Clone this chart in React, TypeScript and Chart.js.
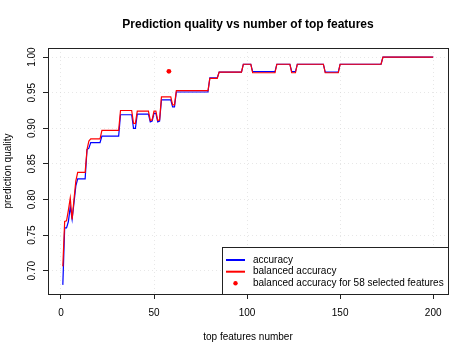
import React, { useEffect, useRef } from 'react';
import { Chart, registerables } from 'chart.js';

Chart.register(...registerables);

// ---- data ----
const accuracyN = [1, 2, 3, 4, 5, 6, 7, 8, 9, 13, 14, 15, 16, 21, 22, 31, 32, 38, 39, 40, 41, 47, 48, 49, 50, 51, 52, 53, 54, 59, 60, 61, 62, 79, 80, 84, 85, 97, 98, 102, 103, 115, 116, 123, 124, 126, 127, 141, 142, 149, 150, 172, 173, 200];
const accuracyValues = [0.680, 0.760, 0.760, 0.769, 0.790, 0.772, 0.795, 0.819, 0.829, 0.829, 0.870, 0.872, 0.880, 0.880, 0.889, 0.889, 0.919, 0.919, 0.900, 0.900, 0.920, 0.920, 0.909, 0.910, 0.921, 0.921, 0.909, 0.910, 0.940, 0.940, 0.930, 0.930, 0.951, 0.951, 0.971, 0.971, 0.979, 0.979, 0.990, 0.990, 0.9795, 0.9795, 0.990, 0.990, 0.9795, 0.9795, 0.990, 0.990, 0.979, 0.979, 0.990, 0.990, 1.000, 1.000];

const balancedN = [1, 2, 3, 4, 5, 6, 7, 8, 9, 13, 14, 15, 16, 21, 22, 31, 32, 38, 39, 40, 41, 47, 48, 49, 50, 51, 52, 53, 54, 59, 60, 61, 62, 79, 80, 84, 85, 97, 98, 102, 103, 115, 116, 123, 124, 126, 127, 141, 142, 149, 150, 172, 173, 200];
const balancedValues = [0.706, 0.769, 0.770, 0.785, 0.802, 0.772, 0.800, 0.826, 0.838, 0.838, 0.870, 0.882, 0.885, 0.885, 0.897, 0.897, 0.925, 0.925, 0.907, 0.907, 0.924, 0.924, 0.911, 0.912, 0.924, 0.924, 0.911, 0.912, 0.944, 0.944, 0.933, 0.933, 0.953, 0.953, 0.970, 0.970, 0.979, 0.979, 0.990, 0.990, 0.978, 0.978, 0.990, 0.990, 0.978, 0.978, 0.990, 0.990, 0.978, 0.978, 0.990, 0.990, 1.000, 1.000];

const selectedN = [58];
const selectedValues = [0.98];

const xTicks = [0, 50, 100, 150, 200];
const yTicks = [0.70, 0.75, 0.80, 0.85, 0.90, 0.95, 1.00];

const titleText = 'Prediction quality vs number of top features';
const xTitle = 'top features number';
const yTitle = 'prediction quality';
const legendLabels = ['accuracy', 'balanced accuracy', 'balanced accuracy for 58 selected features'];

const FONT = '"Liberation Sans", Arial, Helvetica, sans-serif';
const BLUE = '#0000ff';
const RED = '#ff0000';

export default function App() {
  const ref = useRef<HTMLCanvasElement>(null);

  useEffect(() => {
    const canvas = ref.current;
    if (!canvas) return;

    const framePlugin = {
      id: 'rframe',
      afterDraw(chart: any) {
        const { ctx, chartArea: ca } = chart;
        ctx.save();
        // plot box
        ctx.strokeStyle = '#222';
        ctx.lineWidth = 1;
        ctx.setLineDash([]);
        ctx.strokeRect(Math.round(ca.left) + 0.5, Math.round(ca.top) + 0.5, Math.round(ca.right - ca.left), Math.round(ca.bottom - ca.top));

        // title
        ctx.fillStyle = '#000';
        ctx.font = `bold 12px ${FONT}`;
        ctx.textAlign = 'center';
        ctx.textBaseline = 'middle';
        ctx.fillText(titleText, (ca.left + ca.right) / 2, 25);

        // legend
        ctx.font = `10px ${FONT}`;
        const textW = Math.max(...legendLabels.map((l) => ctx.measureText(l).width));
        const right = Math.round(ca.right);
        const bottom = Math.round(ca.bottom);
        const left = Math.round(right - (textW + 35));
        const top = bottom - 47;
        ctx.fillStyle = '#fff';
        ctx.fillRect(left, top, right - left, bottom - top);
        ctx.strokeStyle = '#222';
        ctx.strokeRect(left + 0.5, top + 0.5, right - left, bottom - top);
        const rows = [13, 24.7, 36.3];
        ctx.lineWidth = 2;
        ctx.strokeStyle = BLUE;
        ctx.beginPath();
        ctx.moveTo(left + 4, top + rows[0]);
        ctx.lineTo(left + 23, top + rows[0]);
        ctx.stroke();
        ctx.strokeStyle = RED;
        ctx.beginPath();
        ctx.moveTo(left + 4, top + rows[1]);
        ctx.lineTo(left + 23, top + rows[1]);
        ctx.stroke();
        ctx.fillStyle = RED;
        ctx.beginPath();
        ctx.arc(left + 13.5, top + rows[2], 2.2, 0, Math.PI * 2);
        ctx.fill();
        ctx.fillStyle = '#000';
        ctx.textAlign = 'left';
        ctx.textBaseline = 'middle';
        legendLabels.forEach((l, i) => ctx.fillText(l, left + 31, top + rows[i]));
        ctx.restore();
      },
    };

    const gridCommon = {
      color: 'rgba(215,215,215,0.6)',
      lineWidth: 1,
      borderDash: [1, 3],
      tickLength: 5,
      tickColor: '#222',
      tickWidth: 1,
    };

    const chart = new Chart(canvas, {
      type: 'line',
      data: {
        datasets: [
          {
            label: legendLabels[2],
            data: selectedN.map((n, i) => ({ x: n, y: selectedValues[i] })),
            showLine: false,
            pointRadius: 2.4,
            pointBackgroundColor: RED,
            pointBorderColor: RED,
            pointBorderWidth: 0,
            order: -1,
          },
          {
            label: legendLabels[1],
            data: balancedN.map((n, i) => ({ x: n, y: balancedValues[i] })),
            borderColor: RED,
            borderWidth: 1.2,
            pointRadius: 0,
            tension: 0,
            fill: false,
            order: 0,
          },
          {
            label: legendLabels[0],
            data: accuracyN.map((n, i) => ({ x: n, y: accuracyValues[i] })),
            borderColor: BLUE,
            borderWidth: 1.2,
            pointRadius: 0,
            tension: 0,
            fill: false,
            order: 1,
          },
        ],
      },
      options: {
        responsive: false,
        animation: false,
        devicePixelRatio: 1,
        layout: { padding: { left: 0, right: 26, top: 48, bottom: 0 } },
        plugins: {
          legend: { display: false },
          tooltip: { enabled: false },
          title: { display: false },
        },
        scales: {
          x: {
            type: 'linear',
            min: -6.96,
            max: 207.96,
            afterBuildTicks: (s: any) => {
              s.ticks = xTicks.map((v) => ({ value: v }));
            },
            afterFit: (s: any) => {
              s.height = 61;
            },
            grid: gridCommon,
            border: { display: false, dash: [1, 3] },
            ticks: {
              autoSkip: false,
              maxRotation: 0,
              minRotation: 0,
              padding: 8,
              color: '#000',
              font: { family: FONT, size: 10 },
              callback: (v: any) => String(v),
            },
            title: {
              display: true,
              text: xTitle,
              color: '#000',
              font: { family: FONT, size: 10 },
              padding: { top: 0, bottom: 12 },
            },
          },
          y: {
            type: 'linear',
            min: 0.6672,
            max: 1.0128,
            afterBuildTicks: (s: any) => {
              s.ticks = yTicks.map((v) => ({ value: v }));
            },
            afterFit: (s: any) => {
              s.width = 48;
            },
            grid: gridCommon,
            border: { display: false, dash: [1, 3] },
            ticks: {
              autoSkip: false,
              minRotation: 90,
              maxRotation: 90,
              crossAlign: 'center',
              padding: 1,
              color: '#000',
              font: { family: FONT, size: 10 },
              callback: (v: any) => Number(v).toFixed(2),
            },
            title: {
              display: true,
              text: yTitle,
              color: '#000',
              font: { family: FONT, size: 10 },
              padding: { top: 2.5, bottom: 0 },
            },
          },
        },
      },
      plugins: [framePlugin],
    } as any);

    return () => chart.destroy();
  }, []);

  return (
    <div style={{ position: 'absolute', left: 0, top: 0, width: 474, height: 355, background: '#fff' }}>
      <canvas ref={ref} width={474} height={355} style={{ display: 'block', width: 474, height: 355 }} />
    </div>
  );
}
